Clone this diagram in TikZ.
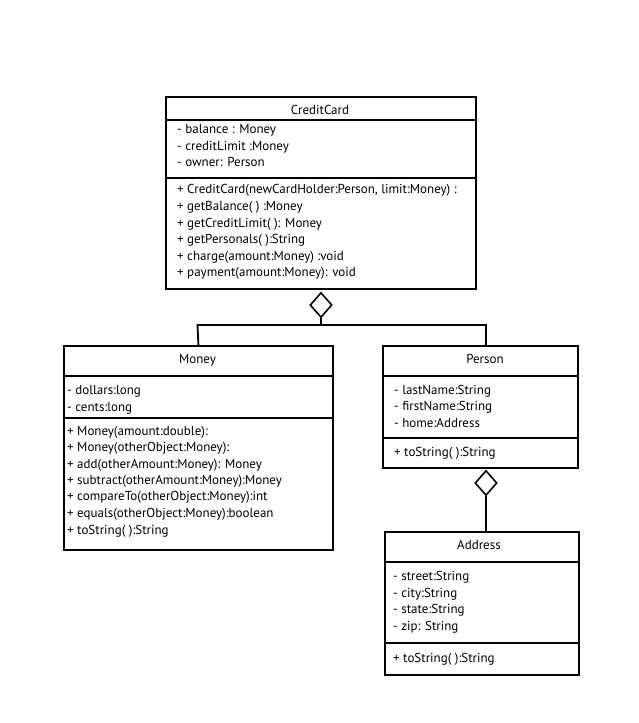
\documentclass[tikz,border=0pt]{standalone}
\usepackage{fontspec}
\setmainfont{PT Sans}
\usetikzlibrary{shapes.geometric}
\begin{document}
\begin{tikzpicture}[x=1pt,y=-1pt,
  classbox/.style={draw, line width=1.8pt, inner sep=0pt, anchor=north west, fill=white},
  sepline/.style={line width=1.6pt},
  conn/.style={line width=1.8pt},
  agg/.style={diamond, draw, line width=1.6pt, fill=white, inner sep=0pt, minimum width=22pt, minimum height=25pt},
  txt/.style={inner sep=0pt, anchor=west, text height=9.5pt, text depth=3pt, font=\fontsize{13pt}{15pt}\selectfont},
  ttl/.style={txt, anchor=center}]
\useasboundingbox[fill=white] (0,0) rectangle (638,723);

% CreditCard
\node[classbox, minimum width=310pt, minimum height=192pt] (cc) at (165,96) {};
\draw[sepline] (165,120) -- (475,120);
\draw[sepline] (165,178) -- (475,178);
\node[ttl] (cct) at (320,111) {CreditCard};
\node[txt] (cca1) at (177,130) {- balance : Money};
\node[txt] (cca2) at (177,147) {- creditLimit :Money};
\node[txt] (cca3) at (177,163) {- owner: Person};
\node[txt] (ccm1) at (177,190) {+ CreditCard(newCardHolder:Person, limit:Money) :};
\node[txt] (ccm2) at (177,207) {+ getBalance( ) :Money};
\node[txt] (ccm3) at (177,224) {+ getCreditLimit( ): Money};
\node[txt] (ccm4) at (177,240) {+ getPersonals( ):String};
\node[txt] (ccm5) at (177,257) {+ charge(amount:Money) :void};
\node[txt] (ccm6) at (177,273) {+ payment(amount:Money): void};

% Money
\node[classbox, minimum width=269pt, minimum height=204pt] (money) at (63,345) {};
\draw[sepline] (63,376) -- (332,376);
\draw[sepline] (63,418) -- (332,418);
\node[ttl] (mt) at (197.5,360) {Money};
\node[txt] (ma1) at (67,391) {- dollars:long};
\node[txt] (ma2) at (67,408) {- cents:long};
\node[txt] (mm1) at (67,432) {+ Money(amount:double):};
\node[txt] (mm2) at (67,448) {+ Money(otherObject:Money):};
\node[txt] (mm3) at (67,465) {+ add(otherAmount:Money): Money};
\node[txt] (mm4) at (67,481) {+ subtract(otherAmount:Money):Money};
\node[txt] (mm5) at (67,497) {+ compareTo(otherObject:Money):int};
\node[txt] (mm6) at (67,514) {+ equals(otherObject:Money):boolean};
\node[txt] (mm7) at (67,531) {+ toString( ):String};

% Person
\node[classbox, minimum width=195pt, minimum height=122pt] (person) at (382,345) {};
\draw[sepline] (382,376) -- (577,376);
\draw[sepline] (382,438) -- (577,438);
\node[ttl] (pt) at (485,360) {Person};
\node[txt] (pa1) at (394,391) {- lastName:String};
\node[txt] (pa2) at (394,407) {- firstName:String};
\node[txt] (pa3) at (394,424) {- home:Address};
\node[txt] (pm1) at (394,453) {+ toString( ):String};

% Address
\node[classbox, minimum width=194pt, minimum height=143pt] (address) at (384,531) {};
\draw[sepline] (384,562) -- (578,562);
\draw[sepline] (384,643) -- (578,643);
\node[ttl] (adt) at (479,546) {Address};
\node[txt] (ada1) at (393,577) {- street:String};
\node[txt] (ada2) at (393,594) {- city:String};
\node[txt] (ada3) at (393,610) {- state:String};
\node[txt] (ada4) at (393,627) {- zip: String};
\node[txt] (adm1) at (393,659) {+ toString( ):String};

% aggregations
\node[agg] (d1) at (321,305) {};
\node[agg] (d2) at (486,483) {};
\coordinate (j1) at (321,325);
\coordinate (mtop) at (197.5,325);
\coordinate (ptop) at (486,325);
\draw[conn] (d1.south) -- (j1);
\draw[conn] (money.north) -- (mtop) -- (ptop) -- (ptop |- person.north);
\draw[conn] (d2.south) -- (d2.south |- address.north);
\end{tikzpicture}
\end{document}
